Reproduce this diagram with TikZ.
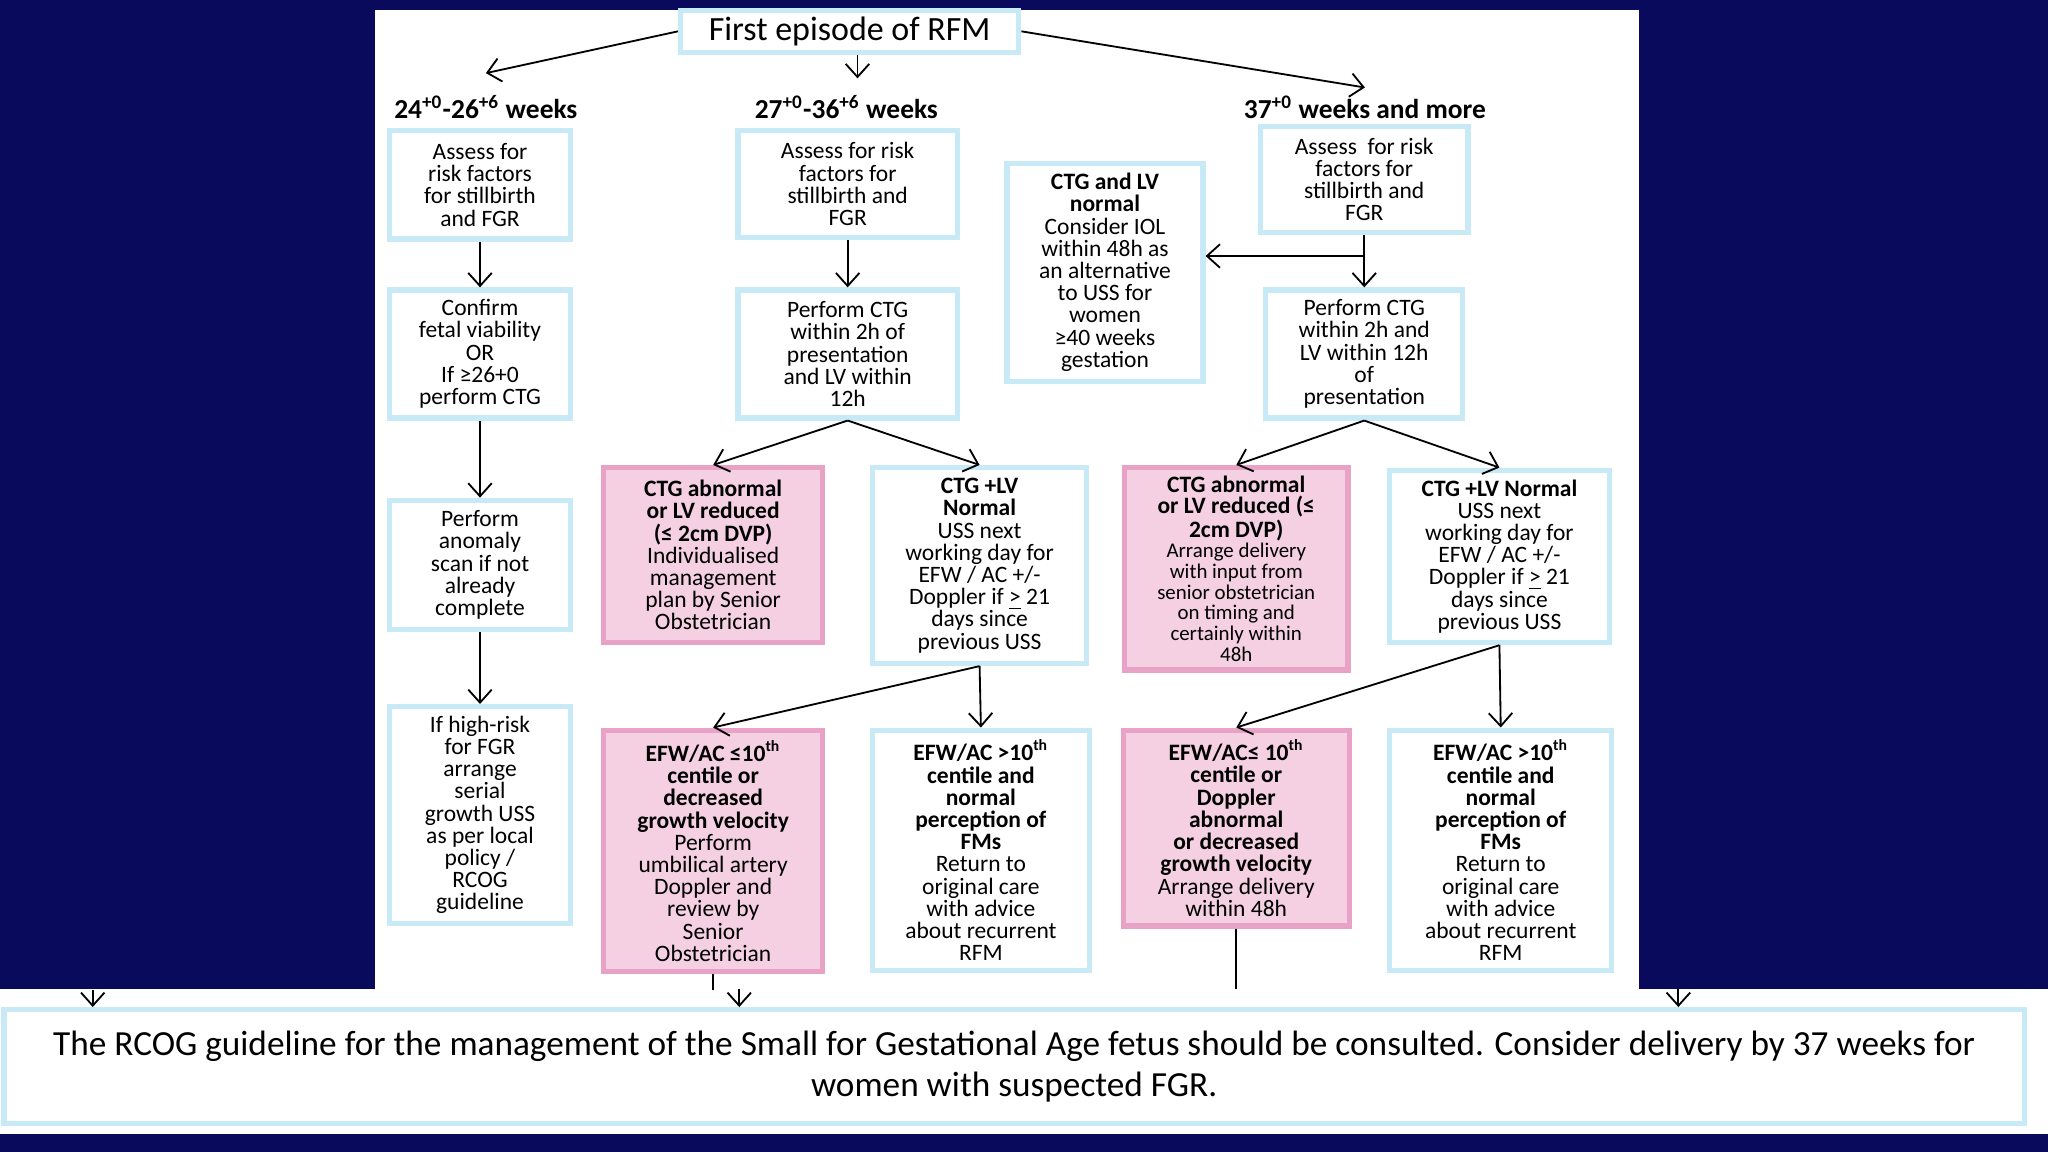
\documentclass[tikz,border=0pt]{standalone}
\usepackage{fontspec}
\setmainfont{Carlito}
\usetikzlibrary{arrows.meta}
\definecolor{navy}{HTML}{0A0A5C}
\definecolor{bbor}{HTML}{C8E9F6}
\definecolor{pfill}{HTML}{F4D0E2}
\definecolor{pbor}{HTML}{E8A2C6}
\newcommand\bigb[1]{{\fontsize{9}{8.5}\selectfont\bfseries #1}}
\begin{document}
\begin{tikzpicture}[x=0.5pt,y=-0.5pt,
 box/.style={draw=bbor,line width=2pt,fill=white,align=center,inner sep=0pt,font=\fontsize{9}{8.5}\selectfont},
 pbox/.style={box,draw=pbor,fill=pfill},
 hd/.style={font=\fontsize{10.5}{12}\selectfont\bfseries},
 arr/.style={-{Straight Barb[length=5pt,width=9pt]},line width=0.7pt}]
\fill[navy] (0,0) rectangle (1568,882);
\fill[white] (287,8) rectangle (1255,757);
\fill[white] (0,757) rectangle (1568,868);
\node[box,minimum width=129.5pt,minimum height=16pt,font=\fontsize{13}{14}\selectfont] (t) at (650.5,24) {First episode of RFM};
\node[hd] (h1) at (372,82) {24\textsuperscript{+0}-26\textsuperscript{+6} weeks};
\node[hd] (h2) at (648,82) {27\textsuperscript{+0}-36\textsuperscript{+6} weeks};
\node[hd] (h3) at (1045,82) {37\textsuperscript{+0} weeks and more};
% column 1
\node[box,minimum width=69.5pt,minimum height=41.5pt] (a1) at (367.5,141.5) {Assess for\\risk factors\\for stillbirth\\and FGR};
\node[box,minimum width=69.5pt,minimum height=49pt] (a2) at (367.5,271) {Confirm\\fetal viability\\OR\\If ≥26+0\\perform CTG};
\node[box,minimum width=69.5pt,minimum height=49.5pt] (a3) at (367.5,432.5) {Perform\\anomaly\\scan if not\\already\\complete};
\node[box,minimum width=69.5pt,minimum height=83pt] (a4) at (367.5,624) {If high-risk\\for FGR\\arrange\\serial\\growth USS\\as per local\\policy /\\RCOG\\guideline};
% column 2
\node[box,minimum width=84pt,minimum height=41pt] (b1) at (649,141) {Assess for risk\\factors for\\stillbirth and\\FGR};
\node[box,minimum width=84pt,minimum height=49pt] (b2) at (649,271) {Perform CTG\\within 2h of\\presentation\\and LV within\\12h};
\node[pbox,minimum width=84pt,minimum height=67pt] (b3) at (546,425) {\textbf{CTG abnormal}\\\textbf{or LV reduced}\\\textbf{(≤ 2cm DVP)}\\Individualised\\management\\plan by Senior\\Obstetrician};
\node[box,minimum width=82pt,minimum height=75pt] (b4) at (750,433) {\textbf{CTG +LV}\\\textbf{Normal}\\USS next\\working day for\\EFW / AC +/-\\Doppler if \underline{>} 21\\days since\\previous USS};
\node[pbox,minimum width=84pt,minimum height=92.5pt] (b5) at (546,651.5) {\textbf{EFW/AC ≤10\textsuperscript{th}}\\\textbf{centile or}\\\textbf{decreased}\\\textbf{growth velocity}\\Perform\\umbilical artery\\Doppler and\\review by\\Senior\\Obstetrician};
\node[box,minimum width=83pt,minimum height=92pt] (b6) at (751,651) {\textbf{EFW/AC >10\textsuperscript{th}}\\\textbf{centile and}\\\textbf{normal}\\\textbf{perception of}\\\textbf{FMs}\\Return to\\original care\\with advice\\about recurrent\\RFM};
% column 3
\node[box,minimum width=75pt,minimum height=83.5pt] (c0) at (846,208.5) {\textbf{CTG and LV}\\\textbf{normal}\\Consider IOL\\within 48h as\\an alternative\\to USS for\\women\\≥40 weeks\\gestation};
\node[box,minimum width=79.5pt,minimum height=40.5pt] (c1) at (1044.5,137.5) {Assess \ for risk\\factors for\\stillbirth and\\FGR};
\node[box,minimum width=75.5pt,minimum height=49pt] (c2) at (1044.5,271) {Perform CTG\\within 2h and\\LV within 12h\\of\\presentation};
\node[pbox,minimum width=85.5pt,minimum height=77.5pt,font=\fontsize{8}{7.9}\selectfont] (c3) at (946.5,435.5) {\bigb{CTG abnormal}\\\bigb{or LV reduced (≤}\\\bigb{2cm DVP)}\\Arrange delivery\\with input from\\senior obstetrician\\on timing and\\certainly within\\48h};
\node[box,minimum width=84pt,minimum height=66pt] (c4) at (1148,426) {\textbf{CTG +LV Normal}\\USS next\\working day for\\EFW / AC +/-\\Doppler if \underline{>} 21\\days since\\previous USS};
\node[pbox,minimum width=86.5pt,minimum height=75pt] (c5) at (946.5,634) {\textbf{EFW/AC≤ 10\textsuperscript{th}}\\\textbf{centile or}\\\textbf{Doppler}\\\textbf{abnormal}\\\textbf{or decreased}\\\textbf{growth velocity}\\Arrange delivery\\within 48h};
\node[box,minimum width=85pt,minimum height=92pt] (c6) at (1149,651) {\textbf{EFW/AC >10\textsuperscript{th}}\\\textbf{centile and}\\\textbf{normal}\\\textbf{perception of}\\\textbf{FMs}\\Return to\\original care\\with advice\\about recurrent\\RFM};
% bottom
\node[box,minimum width=773.5pt,minimum height=43.5pt,font=\fontsize{13.5}{15.5}\selectfont] (g) at (776.5,816.5) {The RCOG guideline for the management of the Small for Gestational Age fetus should be consulted. Consider delivery by 37 weeks for\\women with suspected FGR.};
% arrows
\coordinate (tl) at (372,56); \coordinate (tr) at (1045,67);
\draw[arr] (t.west) -- (tl);
\draw[arr] (t.east) -- (tr);
\draw[arr] ([xshift=3pt]t.south) -- ([xshift=3pt]t.south |- 0,60);
\draw[arr] (a1) -- (a2);
\draw[arr] (a2) -- (a3);
\draw[arr] (a3) -- (a4);
\draw[arr] (b1) -- (b2);
\draw[arr] (b2.south) -- (b3.north);
\draw[arr] (b2.south) -- (b4.north);
\draw[arr] (b4.south) -- (b5.north);
\draw[arr] (b4.south) -- (b6.north);
\draw[arr] (c1) -- (c2);
\coordinate (m) at (1045,196);
\draw[arr] (m) -- (m -| c0.east);
\draw[arr] (c2.south) -- (c3.north);
\draw[arr] (c2.south) -- (c4.north);
\draw[arr] (c4.south) -- (c5.north);
\draw[arr] (c4.south) -- (c6.north);
\coordinate (p1) at (71,758); \coordinate (p2) at (566,757); \coordinate (p3) at (1285,757);
\draw[arr] (p1) -- (p1 |- g.north);
\draw[line width=0.7pt] (b5.south) -- ++(0,12);
\draw[arr] (p2) -- (p2 |- g.north);
\draw[line width=0.7pt] (c5.south) -- (c5.south |- 0,757);
\draw[arr] (p3) -- (p3 |- g.north);
\end{tikzpicture}
\end{document}
